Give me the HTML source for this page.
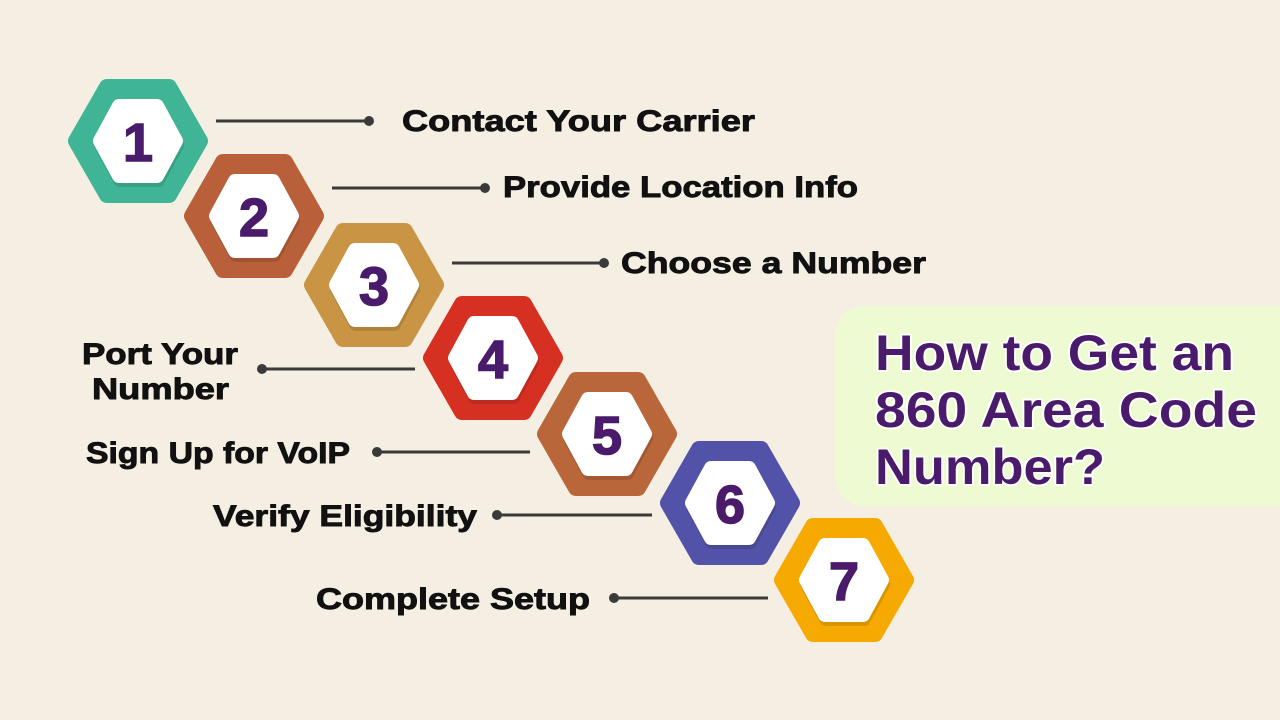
<!DOCTYPE html>
<html><head><meta charset="utf-8"><style>
html,body{margin:0;padding:0;background:#f5efe3;}
svg{display:block}
.lbl{font-family:"Liberation Sans",sans-serif;font-weight:bold;font-size:30px;fill:#111;stroke:#111;stroke-width:0.9;}
.num{font-family:"Liberation Sans",sans-serif;font-weight:bold;font-size:54px;fill:#4a1a6b;stroke:#4a1a6b;stroke-width:1.5;text-anchor:middle;}
.ttl{font-family:"Liberation Sans",sans-serif;font-weight:bold;font-size:50px;fill:#4a1a6b;stroke:#fff;stroke-width:3.5;paint-order:stroke;}
</style></head><body>
<svg width="1280" height="720" viewBox="0 0 1280 720" xmlns="http://www.w3.org/2000/svg">
<defs>
<g id="hexo"><polygon points="-62,0 -31,-54 31,-54 62,0 31,54 -31,54" stroke-width="16" stroke-linejoin="round"/></g>
<g id="hexi">
<polygon transform="translate(1,4)" points="-38,0 -19,-35 19,-35 38,0 19,35 -19,35" fill="#000" fill-opacity="0.12" stroke="#000" stroke-opacity="0.12" stroke-width="14" stroke-linejoin="round"/>
<polygon points="-38,0 -19,-35 19,-35 38,0 19,35 -19,35" fill="#fff" stroke="#fff" stroke-width="14" stroke-linejoin="round"/>
</g>
</defs>
<rect width="1280" height="720" fill="#f5efe3"/>
<rect x="835" y="306" width="480" height="200" rx="30" fill="#eefbd2"/>
<text class="ttl" x="875" y="370" textLength="359" lengthAdjust="spacingAndGlyphs">How to Get an</text>
<text class="ttl" x="875" y="427" textLength="382" lengthAdjust="spacingAndGlyphs">860 Area Code</text>
<text class="ttl" x="875" y="484" textLength="230" lengthAdjust="spacingAndGlyphs">Number?</text>
<g stroke="#3a3a3a" stroke-width="3" fill="#3a3a3a">
<line x1="216" y1="121" x2="369" y2="121"/><circle cx="369" cy="121" r="5" stroke="none"/>
<line x1="332" y1="188" x2="485" y2="188"/><circle cx="485" cy="188" r="5" stroke="none"/>
<line x1="452" y1="263" x2="604" y2="263"/><circle cx="604" cy="263" r="5" stroke="none"/>
<line x1="262" y1="369" x2="415" y2="369"/><circle cx="262" cy="369" r="5" stroke="none"/>
<line x1="377" y1="452" x2="530" y2="452"/><circle cx="377" cy="452" r="5" stroke="none"/>
<line x1="497" y1="515" x2="652" y2="515"/><circle cx="497" cy="515" r="5" stroke="none"/>
<line x1="614" y1="598" x2="768" y2="598"/><circle cx="614" cy="598" r="5" stroke="none"/>
</g>
<text class="lbl" x="402" y="131" textLength="353" lengthAdjust="spacingAndGlyphs">Contact Your Carrier</text>
<text class="lbl" x="503" y="197" textLength="355" lengthAdjust="spacingAndGlyphs">Provide Location Info</text>
<text class="lbl" x="621" y="273" textLength="305" lengthAdjust="spacingAndGlyphs">Choose a Number</text>
<text class="lbl" x="82" y="364" textLength="156" lengthAdjust="spacingAndGlyphs">Port Your</text>
<text class="lbl" x="92" y="399" textLength="137" lengthAdjust="spacingAndGlyphs">Number</text>
<text class="lbl" x="86" y="463" textLength="264" lengthAdjust="spacingAndGlyphs">Sign Up for VoIP</text>
<text class="lbl" x="213" y="526" textLength="264" lengthAdjust="spacingAndGlyphs">Verify Eligibility</text>
<text class="lbl" x="316" y="609" textLength="274" lengthAdjust="spacingAndGlyphs">Complete Setup</text>
<g transform="translate(138,141)"><use href="#hexo" fill="#3fb596" stroke="#3fb596"/><use href="#hexi"/><text class="num" y="20">1</text></g>
<g transform="translate(254,216)"><use href="#hexo" fill="#b9603a" stroke="#b9603a"/><use href="#hexi"/><text class="num" y="20">2</text></g>
<g transform="translate(374,285)"><use href="#hexo" fill="#c99544" stroke="#c99544"/><use href="#hexi"/><text class="num" y="20">3</text></g>
<g transform="translate(493,358)"><use href="#hexo" fill="#d63022" stroke="#d63022"/><use href="#hexi"/><text class="num" y="20">4</text></g>
<g transform="translate(607,434)"><use href="#hexo" fill="#b9663a" stroke="#b9663a"/><use href="#hexi"/><text class="num" y="20">5</text></g>
<g transform="translate(730,503)"><use href="#hexo" fill="#5253a8" stroke="#5253a8"/><use href="#hexi"/><text class="num" y="20">6</text></g>
<g transform="translate(844,580)"><use href="#hexo" fill="#f6a900" stroke="#f6a900"/><use href="#hexi"/><text class="num" y="20">7</text></g>
</svg>
</body></html>
